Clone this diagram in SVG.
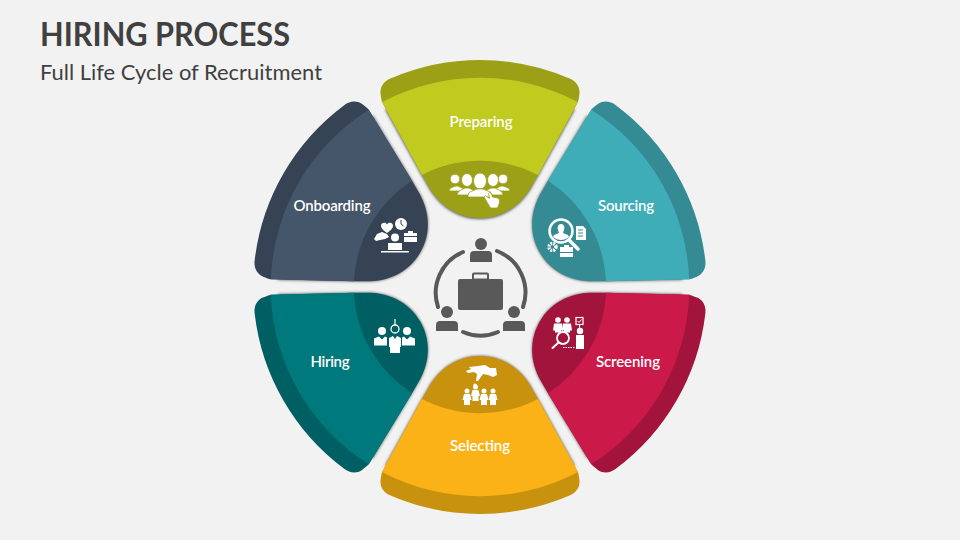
<svg xmlns="http://www.w3.org/2000/svg" width="960" height="540" viewBox="0 0 960 540">
<style>
text{font-family:Lato,"Open Sans","Liberation Sans",sans-serif}
.title{font-size:33px;font-weight:700;fill:#404040}
.sub{font-size:21.500px;fill:#404040}
.lb{font-size:15px;font-weight:600;fill:#fff;text-anchor:middle}
.w{fill:#fff}
.ws{fill:none;stroke:#fff}
.c{fill:#595959}
.ring{fill:none;stroke:#595959;stroke-width:4;stroke-linecap:round}
</style>
<defs>
<filter id="blur" x="-20%" y="-20%" width="140%" height="140%"><feGaussianBlur stdDeviation="1.800"/></filter>
<path id="outer" d="M390.500,78.500 A226,226 0 0 1 569.500,78.500 C576,81 580,87 579.500,93 C579,98 578.500,100 578,102 L538,175 L530,189 C520,205 503,218 480,218 C457,218 440,205 430,189 L422,175 L382,102 C381.500,100 381,98 380.500,93 C380,87 384,81 390.500,78.500 Z"/>
<path id="mid" d="M382,102 A210,210 0 0 1 578,102 L538,175 A126,126 0 0 0 422,175 Z"/>
<path id="sh" d="M385,108 L422,175 L430,189 C440,205 457,218 480,218 C503,218 520,205 530,189 L538,175 L575,108 Z"/>
</defs>
<rect width="960" height="540" fill="#f2f2f2"/>
<text class="title" x="40" y="46" textLength="250" lengthAdjust="spacingAndGlyphs">HIRING PROCESS</text>
<text class="sub" x="40" y="80" textLength="282" lengthAdjust="spacingAndGlyphs">Full Life Cycle of Recruitment</text>

<g id="connectors"></g>

<g id="preparing">
<use href="#sh" transform="translate(0,1)" fill="#555" filter="url(#blur)"/>
<use href="#outer" fill="#9ca017"/><use href="#mid" fill="#c1ca1e"/>
<text class="lb" x="481" y="127" textLength="63">Preparing</text>
<g class="w" stroke="#9ca017" stroke-width="0.800">
<circle cx="455" cy="179" r="4.800"/><circle cx="503" cy="179" r="4.800"/>
<path d="M449,191 q0,-3 4,-4 l3,-1 h2 l6,3 v2z M510,191 q0,-3 -4,-4 l-3,-1 h-2 l-6,3 v2z"/>
<ellipse cx="467" cy="180" rx="5.500" ry="6.500"/><ellipse cx="493" cy="180" rx="5.500" ry="6.500"/>
<path d="M457,195 q0,-3 4,-5 l4,-2 h4 l8,4 v3z M503,195 q0,-3 -4,-5 l-4,-2 h-4 l-8,4 v3z"/>
<ellipse cx="480" cy="181" rx="6.500" ry="8"/>
<path d="M468,197 v-2 q0,-3 4,-4 l5,-2 h6 l5,2 q4,1 4,4 v2z"/>
<path d="M484,197 l1.500,-1.500 l4,3 l-1,-5 l2,-1.500 l2,5 l5,1 q3,1 2,5 l-2,5 h-7 l-3,-5z"/>
</g>
</g>

<g id="sourcing">
<g transform="rotate(60 480 287)"><use href="#sh" fill="#555" filter="url(#blur)"/><use href="#outer" fill="#358b94"/><use href="#mid" fill="#3eadb8"/></g>
<text class="lb" x="626" y="211" textLength="56">Sourcing</text>
<circle class="ws" cx="561" cy="231" r="11.500" stroke-width="2.500"/>
<path class="w" d="M561,224 c3,0 4,3 3,6 l-1,3 l5,2 l1,2 c-5,4 -11,4 -16,0 l1,-2 l5,-2 l-1,-3 c-1,-3 0,-6 3,-6z"/>
<path class="ws" d="M569,240 L578,249" stroke-width="3.500" stroke-linecap="round"/>
<circle class="ws" cx="552.500" cy="247" r="3.500" stroke-width="3.500" stroke-dasharray="1.800 1"/>
<path class="w" d="M560,252 v-5 h4 v-2 h5 v2 h4 v5z M560,253 h13 v4 h-13z"/>
<path class="w" d="M576,226 h7 l3,3 v11 h-10z"/>
<path d="M578,230 h5 M578,233 h5 M578,236 h5" stroke="#358b94" stroke-width="1"/>
</g>

<g id="screening">
<g transform="rotate(120 480 287)"><use href="#sh" fill="#555" filter="url(#blur)"/><use href="#outer" fill="#a2143c"/><use href="#mid" fill="#cb1a4a"/></g>
<text class="lb" x="628" y="367" textLength="64">Screening</text>
<g class="w">
<circle cx="558" cy="320" r="2.800"/><path d="M554,323.500 h8 l1,7 h-2 v2 h-6 v-2 h-2z"/>
<circle cx="567" cy="320" r="2.800"/><path d="M563,323.500 h8 l1,7 h-2 v2 h-6 v-2 h-2z"/>
<circle cx="580" cy="331" r="3.200"/><path d="M576,335 h8 v14 h-8z"/>
</g>
<rect x="576" y="317.500" width="7" height="7" fill="#a2143c" stroke="#fff" stroke-width="1.200"/>
<path d="M577.500,321 l1.500,1.500 l2.500,-3" fill="none" stroke="#fff" stroke-width="1"/>
<path d="M579.500,325 v3" stroke="#fff"/>
<circle cx="563" cy="338" r="6" fill="#a2143c" stroke="#fff" stroke-width="1.800"/>
<path class="ws" d="M558.500,342.500 L552.500,348" stroke-width="2" stroke-linecap="round"/>
<path class="ws" d="M563,347.500 H575" stroke-width="1" stroke-dasharray="1.500 1"/>
</g>

<g id="selecting">
<g transform="rotate(180 480 287)"><use href="#sh" fill="#555" filter="url(#blur)"/><use href="#outer" fill="#c8920f"/><use href="#mid" fill="#fbb216"/></g>
<text class="lb" x="480" y="451" textLength="60">Selecting</text>
<g class="w">
<path d="M469,367 l9,-1 l7,-1 l5,3 h6 l1,7 l-4,2 l-5,-2 l-5,-1 l-5,7 h-2 l1,-7 l-3,-2 l-6,1 l-2,-2 l5,-2z"/>
<circle cx="475" cy="385" r="1.600"/>
<circle cx="467" cy="391" r="2.500"/><path d="M464,394 h6 l1.500,6 h-1.500 v5 h-6 v-5 h-1.500z"/>
<circle cx="475.500" cy="387" r="2.500"/><path d="M472.500,390 h6 l1.500,6 h-1.500 v5 h-6 v-5 h-1.500z"/>
<circle cx="484" cy="391" r="2.500"/><path d="M481,394 h6 l1.500,6 h-1.500 v5 h-6 v-5 h-1.500z"/>
<circle cx="493" cy="391" r="2.500"/><path d="M490,394 h6 l1.500,6 h-1.500 v5 h-6 v-5 h-1.500z"/>
</g>
</g>

<g id="hiring">
<g transform="rotate(240 480 287)"><use href="#sh" fill="#555" filter="url(#blur)"/><use href="#outer" fill="#005f62"/><use href="#mid" fill="#00797c"/></g>
<text class="lb" x="330" y="367" textLength="39">Hiring</text>
<circle class="ws" cx="395" cy="329" r="4" stroke-width="1.300"/>
<path class="ws" d="M395,319 V325" stroke-width="1.200"/>
<g class="w">
<circle cx="382" cy="331" r="4"/><circle cx="407" cy="331" r="4"/>
<path d="M374,345.500 v-7 l5,-2 l3,3 l3,-3 l2,1 v8z M415,345.500 v-7 l-5,-2 l-3,3 l-3,-3 l-2,1 v8z"/>
<path d="M389,338 l4,-2 l2,3 l2,-3 l4,2 v9 h-1 v6 h-10 v-6 h-1z"/>
</g>
</g>

<g id="onboarding">
<g transform="rotate(300 480 287)"><use href="#sh" fill="#555" filter="url(#blur)"/><use href="#outer" fill="#354355"/><use href="#mid" fill="#45566a"/></g>
<text class="lb" x="332" y="211" textLength="77">Onboarding</text>
<g class="w">
<path d="M387,233 c-4,-3 -6,-5 -6,-7 c0,-4 5,-4 6,-1.500 c1,-2.500 6,-2.500 6,1.500 c0,2 -2,4 -6,7z"/>
<circle cx="401" cy="224" r="6"/>
<path d="M374,239 l3,-5 l5,-2 l5,2 l2,3 l-4,2 l-5,1 l-4,1z"/>
<path d="M404,233 h4 v-2 h5 v2 h4 v9 h-13z"/>
<circle cx="395" cy="237.500" r="4"/>
<path d="M388,243 h14 v7 h-14z"/>
<path d="M381,251 h28 v1.500 h-28z"/>
</g>
<path d="M401,220 v4 l2.500,2" fill="none" stroke="#354355" stroke-width="1"/>
<path d="M404,236.500 h13" stroke="#354355" stroke-width="1"/>
</g>

<g id="center">
<g class="c">
<circle cx="481" cy="244" r="6"/><path d="M470,262 v-7 q0,-4 4,-4 h14 q4,0 4,4 v7z"/>
<circle cx="447" cy="312" r="6"/><path d="M436,331 v-6 q0,-4 4,-4 h14 q4,0 4,4 v6z"/>
<circle cx="514" cy="312" r="6"/><path d="M503,331 v-6 q0,-4 4,-4 h14 q4,0 4,4 v6z"/>
<rect x="458" y="279" width="45" height="31" rx="2"/>
</g>
<rect x="473" y="273.500" width="15" height="6" rx="1" fill="none" stroke="#595959" stroke-width="2"/>
<path class="ring" d="M463,252 A44.500,44.500 0 0 0 438,307"/>
<path class="ring" d="M497,251 A44.500,44.500 0 0 1 523,307"/>
<path class="ring" d="M463,332 A44.500,44.500 0 0 0 498,332"/>
</g>
</svg>
